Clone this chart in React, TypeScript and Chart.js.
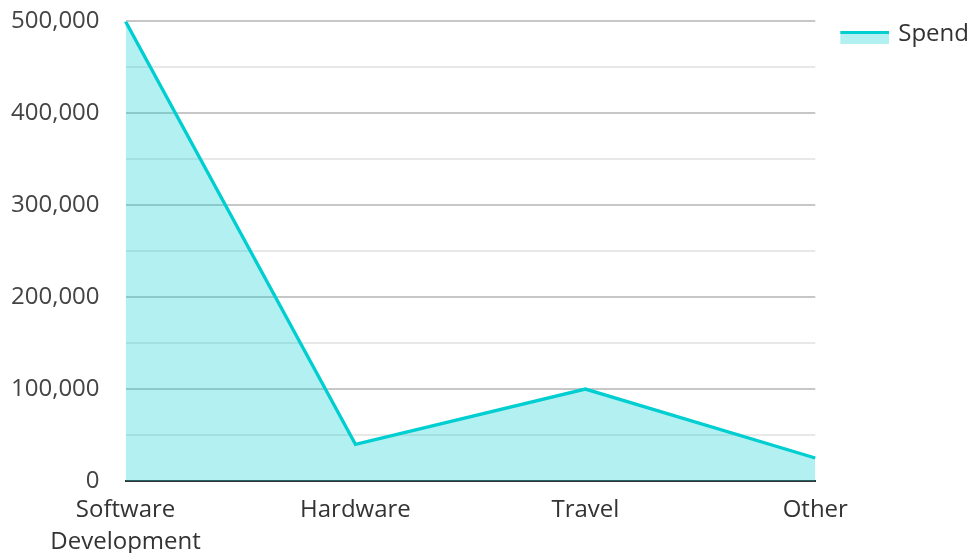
import React, { useEffect, useRef } from "react";
import { Chart, registerables } from "chart.js";

Chart.register(...registerables);

const categories: (string | string[])[] = [["Software", "Development"], "Hardware", "Travel", "Other"];
const spend: number[] = [500000, 40000, 100000, 25000];
const seriesName = "Spend";

const LINE = "#00CED1";
const FILL = "rgba(0,206,209,0.3)";
const FONT = "'Open Sans'";
const FS = 24;

function makeSwatch(): HTMLCanvasElement {
  const c = document.createElement("canvas");
  c.width = 74;
  c.height = 26;
  const ctx = c.getContext("2d")!;
  ctx.fillStyle = FILL;
  ctx.fillRect(25, 13, 49, 10);
  ctx.fillStyle = LINE;
  ctx.fillRect(25, 10, 49, 3);
  return c;
}

export default function App() {
  const ref = useRef<HTMLCanvasElement>(null);
  useEffect(() => {
    document.body.style.margin = "0";
    const swatch = makeSwatch();
    const chart = new Chart(ref.current!, {
      type: "line",
      data: {
        labels: categories,
        datasets: [
          {
            label: seriesName,
            data: spend,
            borderColor: LINE,
            backgroundColor: FILL,
            borderWidth: 3.3,
            fill: "origin",
            pointRadius: 0,
            tension: 0,
            pointStyle: swatch as any,
          },
        ],
      },
      options: {
        animation: false,
        responsive: false,
        maintainAspectRatio: false,
        layout: { padding: { top: 19, left: 4, right: -8, bottom: 0 } },
        font: { family: FONT, size: FS },
        plugins: {
          legend: {
            position: "right",
            align: "start",
            labels: {
              usePointStyle: true,
              pointStyleWidth: 68,
              boxHeight: 24,
              color: "#333",
              font: { family: FONT, size: FS },
              padding: 3,
            },
          },
          tooltip: { enabled: false },
        },
        scales: {
          x: {
            offset: false,
            grid: { display: false, drawTicks: false },
            border: { display: true, color: "#333", width: 2 },
            ticks: {
              color: "#333",
              font: { family: FONT, size: FS, lineHeight: 1.333 },
              maxRotation: 0,
              autoSkip: false,
              padding: 13,
            },
            afterFit: (scale: any) => {
              scale.height = 72;
            },
          },
          y: {
            min: 0,
            max: 500000,
            grid: {
              drawTicks: true,
              tickLength: 19,
              tickColor: "rgba(0,0,0,0)",
              color: (ctx: any) =>
                ctx.tick && ctx.tick.value % 100000 === 0 ? "rgba(0,0,0,0.22)" : "rgba(0,0,0,0.09)",
              lineWidth: 2,
            },
            border: { display: false },
            ticks: {
              stepSize: 50000,
              color: "#444",
              padding: 7,
              font: { family: FONT, size: FS },
              callback: (v: any) => (Number(v) % 100000 === 0 ? Number(v).toLocaleString("en-US") : ""),
            },
          },
        },
      },
    });
    return () => chart.destroy();
  }, []);
  return (
    <div style={{ width: 971, height: 553 }}>
      <canvas ref={ref} width={971} height={553} style={{ display: "block" }} />
    </div>
  );
}
